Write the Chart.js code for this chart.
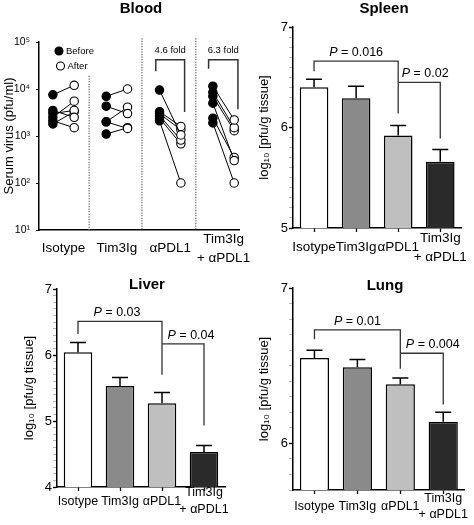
<!DOCTYPE html>
<html><head><meta charset="utf-8">
<script src="https://cdn.jsdelivr.net/npm/chart.js@4.4.1/dist/chart.umd.min.js"></script>
<style>
html,body{margin:0;padding:0;background:#fff;}
#wrap{position:relative;width:474px;height:525px;overflow:hidden;}
canvas{position:absolute;left:0;top:0;}
</style></head><body>
<div id="wrap">
<canvas id="blood"></canvas>
<canvas id="spleen"></canvas>
<canvas id="liver"></canvas>
<canvas id="lung"></canvas>
</div>
<script>
// ---------- data ----------
const barCategories = ['Isotype', 'Tim3Ig', 'αPDL1', ['Tim3Ig', '+ αPDL1']];
const bloodGroups = ['Isotype', 'Tim3Ig', 'αPDL1', ['Tim3Ig', '+ αPDL1']];
const bloodTickValues = [10, 100, 1000, 10000, 100000];
const bloodTickLabels = ['10¹', '10²', '10³', '10⁴', '10⁵'];

const isotypeBefore = [7500, 3500, 3000, 2500, 2100, 1800];
const isotypeAfter  = [12000, 2500, 3500, 5500, 1500, 3300];
const tim3Before    = [7000, 4300, 2000, 2000, 1100];
const tim3After     = [10000, 3000, 4100, 1450, 1500];
const pdl1Before    = [9500, 3300, 3000, 2700, 2400, 2100];
const pdl1After     = [1050, 1600, 1350, 820, 680, 100];
const comboBefore   = [11500, 8500, 7000, 5000, 2400, 1900];
const comboAfter    = [2200, 1500, 1300, 300, 350, 100];
const foldLabels    = ['4.6 fold', '6.3 fold'];

const spleenMeans = [6.40, 6.29, 5.92, 5.66];
const spleenSem   = [0.08, 0.12, 0.10, 0.12];
const liverMeans  = [6.04, 5.53, 5.27, 4.53];
const liverSem    = [0.15, 0.13, 0.16, 0.10];
const lungMeans   = [6.55, 6.49, 6.38, 6.14];
const lungSem     = [0.05, 0.05, 0.04, 0.06];

const spleenTicks = [5, 6, 7];
const liverTicks  = [4, 5, 6, 7];
const lungTicks   = [6, 7];

const spleenP = ['0.016', '0.02'];
const liverP  = ['0.03', '0.04'];
const lungP   = ['0.01', '0.004'];

const barColors = ['#ffffff', '#8a8a8a', '#bfbfbf', '#2a2a2a'];
// ---------- setup ----------
const W = 474, H = 525;
Chart.defaults.font.family = "'Liberation Sans', Arial, sans-serif";
Chart.defaults.color = '#000';

function sizeCanvas(id) {
  const c = document.getElementById(id);
  c.width = W; c.height = H; c.style.width = W + 'px'; c.style.height = H + 'px';
  return c;
}

function drawPText(ctx, cx, cy, val) {
  ctx.save();
  ctx.fillStyle = '#000';
  ctx.textBaseline = 'middle';
  ctx.textAlign = 'left';
  const fi = "italic 12.5px 'Liberation Sans', Arial, sans-serif";
  const fr = "12.5px 'Liberation Sans', Arial, sans-serif";
  ctx.font = fi; const w1 = ctx.measureText('P').width;
  const rest = ' = ' + val;
  ctx.font = fr; const w2 = ctx.measureText(rest).width;
  const x0 = cx - (w1 + w2) / 2;
  ctx.font = fi; ctx.fillText('P', x0, cy);
  ctx.font = fr; ctx.fillText(rest, x0 + w1, cy);
  ctx.restore();
}

function drawTitle(ctx, t) {
  ctx.save();
  ctx.font = "bold 15px 'Liberation Sans', Arial, sans-serif";
  ctx.fillStyle = '#000'; ctx.textAlign = 'center'; ctx.textBaseline = 'middle';
  ctx.fillText(t.text, t.x, t.y);
  ctx.restore();
}

const annot = {
  id: 'annot',
  afterDraw(chart, args, o) {
    const ctx = chart.ctx, xs = chart.scales.x, ys = chart.scales.y;
    ctx.save();
    if (o.means) {
      ctx.strokeStyle = '#000'; ctx.lineWidth = 1.5;
      o.means.forEach((m, i) => {
        const cx = xs.getPixelForValue(i);
        const yb = ys.getPixelForValue(m), yt = ys.getPixelForValue(m + o.sems[i]);
        ctx.beginPath();
        ctx.moveTo(cx, yb); ctx.lineTo(cx, yt);
        ctx.moveTo(cx - 8, yt); ctx.lineTo(cx + 8, yt);
        ctx.stroke();
      });
    }
    if (o.brackets) {
      ctx.strokeStyle = '#333'; ctx.lineWidth = 1.3;
      o.brackets.forEach(b => {
        const xa = xs.getPixelForValue(b.a), xb = xs.getPixelForValue(b.b);
        const yy = ys.getPixelForValue(b.y);
        ctx.beginPath();
        if (b.la != null) { ctx.moveTo(xa, ys.getPixelForValue(b.la)); ctx.lineTo(xa, yy); }
        else ctx.moveTo(xa, yy);
        ctx.lineTo(xb, yy);
        ctx.lineTo(xb, ys.getPixelForValue(b.lb));
        ctx.stroke();
        drawPText(ctx, (xa + xb) / 2 + (b.dx || 0), yy - 8.5, b.p);
      });
    }
    if (o.separators) {
      ctx.strokeStyle = '#777'; ctx.lineWidth = 1.3; ctx.setLineDash([1.3, 1.3]);
      o.separators.forEach(s => {
        const px = xs.getPixelForValue(s.x);
        ctx.beginPath();
        ctx.moveTo(px, ys.getPixelForValue(s.top)); ctx.lineTo(px, chart.chartArea.bottom);
        ctx.stroke();
      });
      ctx.setLineDash([]);
    }
    if (o.folds) {
      ctx.strokeStyle = '#333'; ctx.lineWidth = 1.5;
      o.folds.forEach(f => {
        const xa = xs.getPixelForValue(f.a), xb = xs.getPixelForValue(f.b), yy = ys.getPixelForValue(f.y);
        ctx.beginPath();
        ctx.moveTo(xa, ys.getPixelForValue(f.la)); ctx.lineTo(xa, yy); ctx.lineTo(xb, yy);
        ctx.lineTo(xb, ys.getPixelForValue(f.lb));
        ctx.stroke();
        ctx.font = "9.5px 'Liberation Sans', Arial, sans-serif";
        ctx.fillStyle = '#000'; ctx.textAlign = 'center'; ctx.textBaseline = 'middle';
        ctx.fillText(f.text, (xa + xb) / 2, yy - 9);
      });
    }
    if (o.legend) {
      const L = chart.chartArea.left, T = chart.chartArea.top;
      ctx.font = "9.5px 'Liberation Sans', Arial, sans-serif";
      ctx.textAlign = 'left'; ctx.textBaseline = 'middle';
      o.legend.forEach((it, k) => {
        const cx = L + 20 + k * 1.5, cy = T + 9 + k * 15;
        ctx.beginPath(); ctx.arc(cx, cy, 4, 0, Math.PI * 2);
        ctx.fillStyle = it.fill; ctx.fill();
        ctx.strokeStyle = '#000'; ctx.lineWidth = 1.1; ctx.stroke();
        ctx.fillStyle = '#000';
        ctx.fillText(it.text, cx + 7, cy);
      });
    }
    if (o.title) drawTitle(ctx, o.title);
    ctx.restore();
  }
};

// ---------- Blood ----------
const bloodSets = [];
const pairs = [[isotypeBefore, isotypeAfter], [tim3Before, tim3After], [pdl1Before, pdl1After], [comboBefore, comboAfter]];
pairs.forEach(([bef, aft], g) => {
  bef.forEach((b, i) => {
    bloodSets.push({
      data: [{ x: g - 0.2, y: b }, { x: g + 0.2, y: aft[i] }],
      showLine: true, borderColor: '#000', borderWidth: 1,
      pointRadius: 4.2, pointBackgroundColor: ['#000', '#fff'],
      pointBorderColor: '#000', pointBorderWidth: 1.1
    });
  });
});

new Chart(sizeCanvas('blood'), {
  type: 'scatter',
  data: { datasets: bloodSets },
  options: {
    responsive: false, animation: false,
    layout: { padding: { left: 0, top: 42, right: W - 239, bottom: H - 230 - 40 } },
    plugins: {
      legend: { display: false }, tooltip: { enabled: false },
      annot: {
        title: { text: 'Blood', x: 141, y: 9 },
        separators: [{ x: 0.48, top: 10 ** 4.28 }, { x: 1.47, top: 10 ** 5.08 }, { x: 2.48, top: 10 ** 5.08 }],
        folds: [
          { a: 1.73, b: 2.27, y: 10 ** 4.62, la: 10 ** 4.38, lb: 10 ** 3.51, text: foldLabels[0] },
          { a: 2.72, b: 3.27, y: 10 ** 4.62, la: 10 ** 4.43, lb: 10 ** 3.57, text: foldLabels[1] }
        ],
        legend: [{ text: 'Before', fill: '#000' }, { text: 'After', fill: '#fff' }]
      }
    },
    scales: {
      x: {
        type: 'linear', min: -0.46, max: 3.29,
        afterBuildTicks: s => { s.ticks = bloodGroups.map((_, i) => ({ value: i })); },
        afterFit: s => { s.height = 40; },
        ticks: { autoSkip: false, maxRotation: 0, minRotation: 0, crossAlign: 'center', padding: 9,
          font: { size: 13.5, lineHeight: 1.4 }, color: '#000', callback: (v, i) => bloodGroups[i] },
        grid: { drawOnChartArea: false, drawTicks: false },
        border: { color: '#000', width: 1.5 }
      },
      y: {
        type: 'logarithmic', min: 10, max: 100000,
        afterBuildTicks: s => { s.ticks = bloodTickValues.map(v => ({ value: v })); },
        afterFit: s => { s.width = 39; },
        ticks: { autoSkip: false, padding: 6, font: { size: 10.5 }, color: '#000', callback: (v, i) => bloodTickLabels[i] },
        grid: { drawOnChartArea: false, tickLength: 3, tickColor: '#000', tickWidth: 1.2 },
        border: { color: '#000', width: 1.5 },
        title: { display: true, text: 'Serum virus (pfu/ml)', font: { size: 13 }, color: '#000', padding: { top: 2, bottom: 0 } }
      }
    }
  },
  plugins: [annot]
});

// ---------- bar panels ----------
function barPanel(id, means, sems, major, cfg) {
  const min = cfg.min, max = cfg.max;
  const isMajor = v => major.includes(Math.round(v * 10) / 10);
  new Chart(sizeCanvas(id), {
    type: 'bar',
    data: { labels: barCategories, datasets: [{ data: means, backgroundColor: barColors, borderColor: '#000',
      borderWidth: 1.5, borderSkipped: false, barPercentage: 0.68, categoryPercentage: 1 }] },
    options: {
      responsive: false, animation: false,
      layout: { padding: cfg.pad },
      plugins: { legend: { display: false }, tooltip: { enabled: false },
        annot: { means, sems, brackets: cfg.brackets, title: cfg.title } },
      scales: {
        x: {
          afterFit: s => { s.height = cfg.xh; },
          ticks: { autoSkip: false, maxRotation: 0, minRotation: 0, crossAlign: 'center', padding: cfg.xpad,
            font: { size: cfg.xfont, lineHeight: cfg.xlh }, color: '#000' },
          grid: { drawOnChartArea: false, offset: false, tickLength: 4, tickColor: '#000', tickWidth: 1.3 },
          border: { color: '#000', width: 1.5 }
        },
        y: {
          min, max,
          afterBuildTicks: s => {
            const t = [];
            for (let k = Math.round(min * 10); k <= Math.round(max * 10); k++) t.push({ value: k / 10 });
            s.ticks = t;
          },
          afterFit: s => { s.width = cfg.yw; },
          ticks: { autoSkip: false, padding: 1, font: { size: 13 }, color: '#000',
            callback: v => isMajor(v) ? String(Math.round(v)) : '' },
          grid: { drawOnChartArea: false, tickLength: 4,
            tickColor: c => (c.tick && isMajor(c.tick.value)) ? '#000' : '#888',
            tickWidth: c => (c.tick && isMajor(c.tick.value)) ? 1.4 : 0.6 },
          border: { color: '#000', width: 1.5 },
          title: { display: true, text: 'log₁₀ [pfu/g tissue]', font: { size: 13 }, color: '#000', padding: { top: 2, bottom: 0 } }
        }
      }
    },
    plugins: [annot]
  });
}

barPanel('spleen', spleenMeans, spleenSem, spleenTicks, {
  min: 5, max: 7, yw: 38, xh: 40, xpad: 6, xfont: 13.5, xlh: 1.4,
  pad: { left: 255, top: 27, right: W - 465, bottom: H - 228 - 40 },
  title: { text: 'Spleen', x: 384, y: 9 },
  brackets: [
    { a: 0, b: 2, y: 6.66, la: 6.56, lb: 6.14, p: spleenP[0], dx: 0 },
    { a: 2, b: 3, y: 6.45, la: null, lb: 5.89, p: spleenP[1], dx: 6 }
  ]
});

barPanel('liver', liverMeans, liverSem, liverTicks, {
  min: 4, max: 7, yw: 37, xh: 38, xpad: 2, xfont: 12.5, xlh: 1.36,
  pad: { left: 20, top: 289, right: W - 225, bottom: H - 487 - 38 },
  title: { text: 'Liver', x: 147, y: 285 },
  brackets: [
    { a: 0, b: 2, y: 6.51, la: 6.32, lb: 5.70, p: liverP[0], dx: -3 },
    { a: 2, b: 3, y: 6.17, la: null, lb: 4.93, p: liverP[1], dx: 8 }
  ]
});

barPanel('lung', lungMeans, lungSem, lungTicks, {
  min: 5.7, max: 7, yw: 38, xh: 35, xpad: 5, xfont: 12.5, xlh: 1.25,
  pad: { left: 255, top: 288, right: W - 465, bottom: H - 490 - 35 },
  title: { text: 'Lung', x: 385, y: 286 },
  brackets: [
    { a: 0, b: 2, y: 6.73, la: 6.67, lb: 6.48, p: lungP[0], dx: 0 },
    { a: 2, b: 3, y: 6.58, la: null, lb: 6.25, p: lungP[1], dx: 11 }
  ]
});
</script>
</body></html>
